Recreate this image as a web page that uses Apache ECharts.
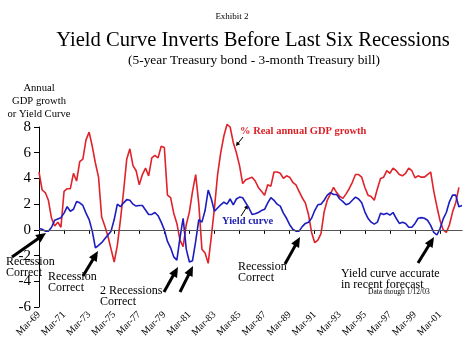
<!DOCTYPE html>
<html>
<head>
<meta charset="utf-8">
<script src="https://cdn.jsdelivr.net/npm/echarts@6/dist/echarts.min.js"></script>
<style>html,body{margin:0;padding:0;background:#fff}#c{width:474px;height:355px}</style>
</head>
<body>
<div id="c"></div>
<script>
// Quarterly categories Mar-69 ... Dec-02
const months = ['Mar','Jun','Sep','Dec'];
const categories = [];
for (let y = 1969; y <= 2002; y++) {
  for (const m of months) categories.push(m + '-' + String(y % 100).padStart(2, '0'));
}
const yTicks = [-6, -4, -2, 0, 2, 4, 6, 8];

// % Real annual GDP growth (quarterly)
const gdpGrowth = [
  4.5, 3.1, 2.9, 2.3, 0.9, 0.3, 0.6, 0.2,
  3.0, 3.2, 3.2, 4.4, 3.8, 5.3, 5.5, 7.0,
  7.6, 6.5, 5.2, 4.1, 1.0, 0.3, -0.5, -1.5,
  -2.5, -1.2, 0.8, 3.0, 5.5, 6.3, 5.0, 4.6,
  3.5, 4.3, 4.8, 4.2, 5.6, 5.8, 5.6, 6.5,
  6.4, 2.7, 2.5, 1.3, 0.5, -0.8, -1.3, 0.4,
  1.4, 3.0, 4.3, 2.0, -1.5, -1.8, -2.6, -0.5,
  1.7, 4.3, 6.0, 7.3, 8.2, 8.0, 6.8, 6.0,
  5.0, 3.6, 3.9, 4.0, 4.1, 3.8, 3.3, 3.0,
  2.7, 3.5, 3.4, 4.5, 4.5, 4.4, 4.0, 4.2,
  4.1, 3.7, 3.5, 3.0, 2.5, 2.1, 1.2, -0.2,
  -1.0, -0.8, -0.3, 1.4, 2.3, 2.8, 3.3, 2.9,
  2.6, 2.45, 2.8, 3.2, 3.7, 4.3, 4.3, 4.1,
  3.3, 2.7, 2.6, 2.3, 3.2, 4.0, 4.1, 4.6,
  4.4, 4.8, 4.6, 4.3, 4.2, 4.4, 4.8, 4.6,
  4.05, 4.2, 4.1, 4.1, 4.3, 4.5, 3.0, 1.8,
  0.7, 0.0, -0.2, 0.4, 1.4, 2.1, 3.3, null
];

// Yield curve: 5-year Treasury bond - 3-month Treasury bill (quarterly)
const yieldCurve = [
  0.1, 0.05, -0.1, -0.1, 0.2, 0.75, 0.85, 0.95,
  1.3, 1.8, 1.45, 1.6, 2.2, 2.1, 1.9, 1.3,
  0.8, -0.1, -1.4, -1.2, -1.0, -0.7, -0.4, -0.1,
  0.8, 2.0, 1.8, 2.1, 2.35, 2.3, 2.0, 1.85,
  1.9, 1.9, 1.55, 1.2, 1.2, 1.35, 1.1, 0.6,
  0.0, -0.9, -1.4, -2.1, -2.35, -0.6, 0.9, -1.5,
  -2.5, -2.4, -0.9, 0.8, 0.6, 1.5, 3.1, 2.4,
  1.45, 1.7, 1.95, 2.15, 2.0, 2.4, 1.95, 2.4,
  2.55, 2.5, 2.1, 1.7, 1.2, 1.25, 1.35, 1.5,
  1.6, 2.1, 2.5, 2.3, 2.0, 1.85, 1.3, 0.9,
  0.4, 0.05, -0.1, -0.1, 0.25, 0.5, 0.6, 0.9,
  1.5, 1.95, 2.0, 2.3, 2.7, 2.9, 2.75, 2.75,
  2.4, 2.2, 1.95, 2.05, 2.3, 2.55, 2.4, 2.1,
  1.4, 0.9, 0.6, 0.45, 0.6, 1.3, 1.2, 1.3,
  1.15, 1.35, 0.9, 0.5, 0.6, 0.5, 0.2, 0.2,
  0.5, 0.9, 0.95, 0.9, 0.75, 0.35, -0.2, -0.4,
  0.1, 0.85, 1.35, 2.2, 2.7, 2.7, 1.8, 1.9
];

const SERIF = 'Liberation Serif, Times New Roman, serif';

function arrow(x1, y1, x2, y2, w, hl, hw) {
  const dx = x2 - x1, dy = y2 - y1, L = Math.hypot(dx, dy);
  const ux = dx / L, uy = dy / L, px = -uy, py = ux;
  const bx = x2 - ux * hl, by = y2 - uy * hl;
  return [
    { type: 'line', silent: true, shape: { x1: x1, y1: y1, x2: bx + ux, y2: by + uy },
      style: { stroke: '#000', lineWidth: w } },
    { type: 'polygon', silent: true,
      shape: { points: [[x2, y2], [bx + px * hw, by + py * hw], [bx - px * hw, by - py * hw]] },
      style: { fill: '#000' } }
  ];
}

function txt(x, y, text, size, opts) {
  return { type: 'text', silent: true, x: x, y: y,
    style: Object.assign({ text: text, font: size + 'px ' + SERIF, fill: '#000',
      textAlign: 'left', textVerticalAlign: 'top', lineHeight: Math.round(size * 0.95) }, opts || {}) };
}

const chart = echarts.init(document.getElementById('c'), null, { renderer: 'canvas' });
const graphics = [
  txt(232, 12, 'Exhibit 2', 9, { textAlign: 'center' }),
  txt(253, 31, 'Yield Curve Inverts Before Last Six Recessions', 20.6, { textAlign: 'center' }),
  txt(254, 54, '(5-year Treasury bond - 3-month Treasury bill)', 13.4, { textAlign: 'center' }),
  txt(39, 82, 'Annual\nGDP growth\nor Yield Curve', 10.6, { textAlign: 'center', lineHeight: 13 }),
  txt(6, 256, 'Recession\nCorrect', 12, { lineHeight: 11 }),
  txt(48, 271, 'Recession\nCorrect', 12, { lineHeight: 11 }),
  txt(100, 285, '2 Recessions\nCorrect', 12, { lineHeight: 11 }),
  txt(238, 261, 'Recession\nCorrect', 12, { lineHeight: 11 }),
  txt(341, 268, 'Yield curve accurate\nin recent forecast', 12, { lineHeight: 11 }),
  txt(368, 289, 'Data though 1/12/03', 7.5),
  txt(240, 126, '% Real annual GDP growth', 10.5, { fill: '#dd1f26', font: 'bold 10.5px ' + SERIF }),
  txt(222, 216, 'Yield curve', 10.5, { fill: '#2424b0', font: 'bold 10.5px ' + SERIF })
].concat(
  arrow(12, 257, 46, 233, 3, 10, 4.5),
  arrow(83, 276, 98, 251, 3, 10, 4.5),
  arrow(164, 292, 178, 267, 3, 10, 4.5),
  arrow(180, 292, 193, 266, 3, 10, 4.5),
  arrow(285, 264, 300, 237, 3, 10, 4.5),
  arrow(418, 263, 434, 237, 3, 10, 4.5),
  arrow(243, 137, 236, 146, 1, 4, 2.2),
  arrow(241, 216, 248, 205, 1, 4, 2.2)
);

chart.setOption({
  animation: false,
  backgroundColor: '#fff',
  grid: { left: 39, right: 12, top: 127, bottom: 48, containLabel: false },
  xAxis: {
    type: 'category', data: categories, boundaryGap: false,
    axisLine: { lineStyle: { color: '#000', width: 1 } },
    axisTick: { interval: 7, length: 4, lineStyle: { color: '#000' } },
    axisLabel: { interval: 7, rotate: 45, color: '#000', fontFamily: SERIF, fontSize: 10, margin: 6 },
    splitLine: { show: false }
  },
  yAxis: {
    type: 'value', min: yTicks[0], max: yTicks[yTicks.length - 1], interval: 2,
    axisLine: { show: true, lineStyle: { color: '#000', width: 1 } },
    axisTick: { show: true, length: 5, lineStyle: { color: '#000' } },
    axisLabel: { color: '#000', fontFamily: SERIF, fontSize: 15, margin: 8 },
    splitLine: { show: false }
  },
  series: [
    { name: 'GDP', type: 'line', data: gdpGrowth, symbol: 'none', clip: false,
      lineStyle: { color: '#e0222a', width: 1.6 }, z: 2 },
    { name: 'Yield curve', type: 'line', data: yieldCurve, symbol: 'none', clip: false,
      lineStyle: { color: '#1c1cc0', width: 1.6 }, z: 3,
      markLine: { silent: true, symbol: 'none', label: { show: false },
        lineStyle: { color: '#555', width: 1, type: 'solid' }, data: [{ yAxis: 0 }] } }
  ],
  graphic: graphics
});
</script>
</body>
</html>
